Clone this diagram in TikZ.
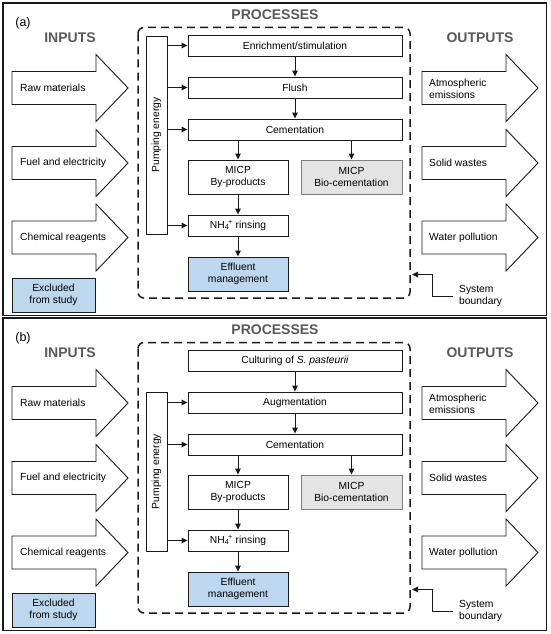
\documentclass[tikz,border=0pt]{standalone}
\usepackage{fontspec}
\setmainfont{Liberation Sans}
\usetikzlibrary{arrows.meta,calc}
\definecolor{headgray}{HTML}{595959}
\definecolor{exblue}{HTML}{BDD7EE}
\definecolor{biogray}{HTML}{E4E4E4}
\definecolor{biobord}{HTML}{808080}
\definecolor{lineblk}{HTML}{1A1A1A}
\tikzset{
  frame/.style={draw=lineblk,line width=1.4pt},
  heading/.style={font=\fontsize{14}{16}\selectfont\bfseries,text=headgray,inner sep=0pt},
  plabel/.style={font=\fontsize{12.5}{14}\selectfont,inner sep=0pt},
  blockarrow/.style={draw=lineblk,line width=0.9pt,fill=white},
  atext/.style={font=\fontsize{10.3}{12.5}\selectfont,align=left,inner sep=0pt,anchor=west},
  procbox/.style={draw=lineblk,line width=0.9pt,fill=white,inner sep=0pt,
     font=\fontsize{10.3}{12.5}\selectfont,align=center},
  widebox/.style={procbox,minimum width=214pt,minimum height=21pt},
  midbox/.style={procbox,minimum width=100pt,minimum height=34pt},
  thinbox/.style={procbox,minimum width=100pt,minimum height=21pt},
  bluebox/.style={procbox,fill=exblue},
  graybox/.style={procbox,fill=biogray,draw=biobord},
  conn/.style={draw=lineblk,line width=0.9pt,-{Triangle[length=6pt,width=5.5pt]}},
  boundary/.style={draw=lineblk,line width=1.5pt,dash pattern=on 8pt off 5pt,rounded corners=6pt},
  blockarr/.pic={\draw[blockarrow] (0,-16.5) -- (84,-16.5) -- (84,-33.5) -- (116,0)
      -- (84,33.5) -- (84,16.5) -- (0,16.5) -- cycle;}
}
% #1 prefix, #2 panel label, #3 top box, #4 second box, #5 pump centre y, #6 pump height, #7 shift
\newcommand\lcapanel[7]{%
\begin{scope}[shift={(0,#7)}]
  \draw[frame] (3,3) rectangle (546.5,315.5);
  \node[plabel] (#1-label) at (23,23) {#2};
  \node[heading] (#1-inputs) at (70,38) {INPUTS};
  \node[heading] (#1-processes) at (275,15) {PROCESSES};
  \node[heading] (#1-outputs) at (480,38) {OUTPUTS};
  \draw[boundary] (138,27.5) rectangle (410,298);
  % input arrows
  \pic at (12,88) {blockarr};
  \pic at (12,163) {blockarr};
  \pic at (12,237.5) {blockarr};
  \node[atext] (#1-raw) at (20,88) {Raw materials};
  \node[atext] (#1-fuel) at (20,163) {Fuel and electricity};
  \node[atext] (#1-chem) at (20,237.5) {Chemical reagents};
  % output arrows
  \pic at (422,88) {blockarr};
  \pic at (422,163) {blockarr};
  \pic at (422,237.5) {blockarr};
  \node[atext] (#1-atm) at (429,89) {Atmospheric\\emissions};
  \node[atext] (#1-solid) at (429,163) {Solid wastes};
  \node[atext] (#1-water) at (429,237.5) {Water pollution};
  % excluded legend
  \node[bluebox,minimum width=83pt,minimum height=34pt] (#1-excl) at (53.5,295) {Excluded\\from study};
  % processes
  \node[procbox,rotate=90,minimum width=#6pt,minimum height=21pt] (#1-pump) at (156.5,#5) {Pumping energy};
  \node[widebox] (#1-top) at (295,45.5) {#3};
  \node[widebox] (#1-second) at (295,87.5) {#4};
  \node[widebox] (#1-cem) at (295,129.5) {Cementation};
  \node[midbox] (#1-byp) at (238,177) {MICP\\By-products};
  \node[graybox,minimum width=101pt,minimum height=34pt] (#1-bio) at (351.5,177) {MICP\\Bio-cementation};
  \node[thinbox] (#1-nh4) at (238,225.5) {NH\textsubscript{4}\kern-1.2pt\textsuperscript{+} rinsing};
  \node[bluebox,minimum width=100pt,minimum height=34pt] (#1-eff) at (238,274) {Effluent\\management};
  % system boundary label
  \node[atext,align=left,anchor=west] (#1-sb) at (459,296) {System\\boundary};
  \coordinate (#1-sbtip) at (412,274.5);
  % connectors
  \draw[conn] (#1-top) -- (#1-second);
  \draw[conn] (#1-second) -- (#1-cem);
  \draw[conn] (#1-cem.south -| #1-byp.north) -- (#1-byp.north);
  \draw[conn] (#1-cem.south -| #1-bio.north) -- (#1-bio.north);
  \draw[conn] (#1-byp) -- (#1-nh4);
  \draw[conn] (#1-nh4) -- (#1-eff);
  \draw[conn] (#1-pump.south |- #1-second.west) -- (#1-second.west);
  \draw[conn] (#1-pump.south |- #1-cem.west) -- (#1-cem.west);
  \draw[conn] (#1-pump.south |- #1-nh4.west) -- (#1-nh4.west);
  \draw[conn] ([xshift=-6pt]#1-sb.west) -- ++(-21,0) |- (#1-sbtip);
\end{scope}}
\begin{document}
\begin{tikzpicture}[x=1pt,y=-1pt]
\useasboundingbox (0,0) rectangle (550,634);
\lcapanel{a}{(a)}{Enrichment/stimulation}{Flush}{135}{198}{0}
\lcapanel{b}{(b)}{Culturing of \textit{S. pasteurii}}{Augmentation}{156.5}{159}{315}
\draw[conn] (a-pump.south |- a-top.west) -- (a-top.west);
\end{tikzpicture}
\end{document}
